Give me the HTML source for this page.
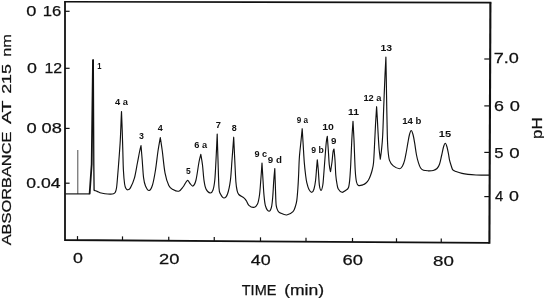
<!DOCTYPE html>
<html><head><meta charset="utf-8"><title>Chromatogram</title>
<style>html,body{margin:0;padding:0;background:#fff}svg{display:block}</style></head>
<body>
<svg width="544" height="298" viewBox="0 0 544 298">
<rect width="544" height="298" fill="#fff"/>
<g fill="none" stroke="#111" stroke-width="1.8" stroke-linejoin="miter">
<path d="M65,1.7 L65,240.0 L489.4,242.9"/>
<path d="M490.4,2.6 L489.4,243.8" stroke-width="2.1"/>
<path d="M64.1,1.7 L491.4,2.6" stroke-width="1.6"/>
</g>
<g stroke="#111" stroke-width="1.2" fill="none">
<line x1="65" y1="11.3" x2="69.6" y2="11.3"/>
<line x1="65" y1="68.3" x2="69.6" y2="68.3"/>
<line x1="65" y1="128.4" x2="69.6" y2="128.4"/>
<line x1="65" y1="183.2" x2="69.6" y2="183.2"/>
<line x1="484.3" y1="59.0" x2="489.8" y2="59.0"/>
<line x1="484.3" y1="105.9" x2="489.8" y2="105.9"/>
<line x1="484.3" y1="152.4" x2="489.8" y2="152.4"/>
<line x1="484.3" y1="196.6" x2="489.8" y2="196.6"/>
<line x1="77.50" y1="236.09" x2="77.50" y2="240.09"/>
<line x1="122.50" y1="236.39" x2="122.50" y2="240.39"/>
<line x1="168.75" y1="236.71" x2="168.75" y2="240.71"/>
<line x1="214.25" y1="237.02" x2="214.25" y2="241.02"/>
<line x1="260.50" y1="237.33" x2="260.50" y2="241.33"/>
<line x1="306.00" y1="237.64" x2="306.00" y2="241.64"/>
<line x1="352.50" y1="237.96" x2="352.50" y2="241.96"/>
<line x1="396.50" y1="238.26" x2="396.50" y2="242.26"/>
<line x1="441.25" y1="238.57" x2="441.25" y2="242.57"/>
</g>
<path d="M94.10,190.30C94.23,190.35 94.40,190.42 94.90,190.60C95.40,190.78 96.25,191.05 97.10,191.40C97.95,191.75 98.68,192.32 100.00,192.70C101.32,193.08 103.30,193.47 105.00,193.70C106.70,193.93 108.78,194.08 110.20,194.10C111.62,194.12 112.65,194.10 113.50,193.80C114.35,193.50 114.80,193.27 115.30,192.30C115.80,191.33 116.17,190.02 116.50,188.00C116.83,185.98 116.90,184.85 117.30,180.20C117.70,175.55 118.40,166.80 118.90,160.10C119.40,153.40 119.92,147.02 120.30,140.00C120.68,132.98 121.00,122.75 121.20,118.00C121.40,113.25 121.45,112.58 121.50,111.50C121.62,114.58 121.98,123.58 122.20,130.00C122.42,136.42 122.60,143.33 122.80,150.00C123.00,156.67 123.10,164.33 123.40,170.00C123.70,175.67 124.17,180.92 124.60,184.00C125.03,187.08 125.47,187.53 126.00,188.50C126.53,189.47 127.07,189.90 127.80,189.80C128.53,189.70 129.30,189.83 130.40,187.90C131.50,185.97 133.23,182.35 134.40,178.20C135.57,174.05 136.53,167.45 137.40,163.00C138.27,158.55 139.00,154.40 139.60,151.50C140.20,148.60 140.77,146.58 141.00,145.60C141.20,148.00 141.77,154.62 142.20,160.00C142.63,165.38 143.05,173.57 143.60,177.90C144.15,182.23 144.58,183.90 145.50,186.00C146.42,188.10 147.93,190.67 149.10,190.50C150.27,190.33 151.43,188.42 152.50,185.00C153.57,181.58 154.58,175.67 155.50,170.00C156.42,164.33 157.20,156.42 158.00,151.00C158.80,145.58 159.92,139.75 160.30,137.50C160.63,139.75 161.52,145.12 162.30,151.00C163.08,156.88 163.92,167.07 165.00,172.80C166.08,178.53 167.47,182.62 168.80,185.40C170.13,188.18 171.33,188.53 173.00,189.50C174.67,190.47 177.13,191.62 178.80,191.20C180.47,190.78 181.58,188.80 183.00,187.00C184.42,185.20 186.13,180.98 187.30,180.40C188.47,179.82 189.05,182.57 190.00,183.50C190.95,184.43 192.00,186.58 193.00,186.00C194.00,185.42 195.00,184.00 196.00,180.00C197.00,176.00 198.20,166.27 199.00,162.00C199.80,157.73 200.50,155.67 200.80,154.40C201.08,156.17 201.97,160.67 202.50,165.00C203.03,169.33 203.42,176.40 204.00,180.40C204.58,184.40 204.97,186.90 206.00,189.00C207.03,191.10 209.03,192.83 210.20,193.00C211.37,193.17 212.23,192.17 213.00,190.00C213.77,187.83 214.30,185.00 214.80,180.00C215.30,175.00 215.60,167.67 216.00,160.00C216.40,152.33 217.00,138.33 217.20,134.00C217.33,138.33 217.70,151.00 218.00,160.00C218.30,169.00 218.58,182.33 219.00,188.00C219.42,193.67 219.67,192.33 220.50,194.00C221.33,195.67 222.83,198.00 224.00,198.00C225.17,198.00 226.43,196.93 227.50,194.00C228.57,191.07 229.65,186.07 230.40,180.40C231.15,174.73 231.45,167.20 232.00,160.00C232.55,152.80 233.42,141.00 233.70,137.20C233.92,141.83 234.63,157.53 235.00,165.00C235.37,172.47 235.57,177.83 235.90,182.00C236.23,186.17 236.52,187.92 237.00,190.00C237.48,192.08 237.65,193.18 238.80,194.50C239.95,195.82 242.62,196.82 243.90,197.90C245.18,198.98 245.67,199.75 246.50,201.00C247.33,202.25 247.67,204.33 248.90,205.40C250.13,206.47 252.47,207.63 253.90,207.40C255.33,207.17 256.57,206.07 257.50,204.00C258.43,201.93 258.95,199.00 259.50,195.00C260.05,191.00 260.38,185.32 260.80,180.00C261.22,174.68 261.80,165.92 262.00,163.10C262.17,165.92 262.67,174.63 263.00,180.00C263.33,185.37 263.58,190.97 264.00,195.30C264.42,199.63 264.67,203.35 265.50,206.00C266.33,208.65 268.00,211.03 269.00,211.20C270.00,211.37 270.87,209.53 271.50,207.00C272.13,204.47 272.42,200.50 272.80,196.00C273.18,191.50 273.47,184.58 273.80,180.00C274.13,175.42 274.63,170.42 274.80,168.50C274.92,172.08 275.27,183.85 275.50,190.00C275.73,196.15 275.78,201.90 276.20,205.40C276.62,208.90 277.30,209.73 278.00,211.00C278.70,212.27 278.95,212.33 280.40,213.00C281.85,213.67 284.60,215.22 286.70,215.00C288.80,214.78 291.53,213.20 293.00,211.70C294.47,210.20 294.87,207.88 295.50,206.00C296.13,204.12 296.40,203.40 296.80,200.40C297.20,197.40 297.60,192.20 297.90,188.00C298.20,183.80 298.35,180.37 298.60,175.20C298.85,170.03 298.98,162.87 299.40,157.00C299.82,151.13 300.63,144.72 301.10,140.00C301.57,135.28 302.02,130.58 302.20,128.70C302.37,131.42 302.85,139.35 303.20,145.00C303.55,150.65 303.90,157.60 304.30,162.60C304.70,167.60 305.18,171.65 305.60,175.00C306.02,178.35 306.23,180.28 306.80,182.70C307.37,185.12 308.15,187.90 309.00,189.50C309.85,191.10 311.07,192.38 311.90,192.30C312.73,192.22 313.38,191.02 314.00,189.00C314.62,186.98 315.17,183.70 315.60,180.20C316.03,176.70 316.32,171.40 316.60,168.00C316.88,164.60 317.18,161.17 317.30,159.80C317.47,161.50 317.95,165.75 318.30,170.00C318.65,174.25 318.92,181.92 319.40,185.30C319.88,188.68 320.63,190.35 321.20,190.30C321.77,190.25 322.38,187.52 322.80,185.00C323.22,182.48 323.33,179.70 323.70,175.20C324.07,170.70 324.57,163.53 325.00,158.00C325.43,152.47 325.92,145.60 326.30,142.00C326.68,138.40 327.13,137.33 327.30,136.40C327.47,138.67 327.97,145.23 328.30,150.00C328.63,154.77 328.93,161.38 329.30,165.00C329.67,168.62 330.30,170.58 330.50,171.70C330.75,170.08 331.58,165.28 332.00,162.00C332.42,158.72 332.67,154.17 333.00,152.00C333.33,149.83 333.83,149.50 334.00,149.00C334.17,150.83 334.70,155.63 335.00,160.00C335.30,164.37 335.47,171.20 335.80,175.20C336.13,179.20 336.58,181.70 337.00,184.00C337.42,186.30 337.47,187.62 338.30,189.00C339.13,190.38 340.80,192.05 342.00,192.30C343.20,192.55 344.43,191.25 345.50,190.50C346.57,189.75 347.70,189.55 348.40,187.80C349.10,186.05 349.32,183.80 349.70,180.00C350.08,176.20 350.35,171.67 350.70,165.00C351.05,158.33 351.42,147.28 351.80,140.00C352.18,132.72 352.80,124.42 353.00,121.30C353.17,124.42 353.63,131.88 354.00,140.00C354.37,148.12 354.78,163.00 355.20,170.00C355.62,177.00 355.95,179.42 356.50,182.00C357.05,184.58 357.42,185.03 358.50,185.50C359.58,185.97 361.75,185.22 363.00,184.80C364.25,184.38 365.08,183.80 366.00,183.00C366.92,182.20 367.75,181.25 368.50,180.00C369.25,178.75 369.88,177.17 370.50,175.50C371.12,173.83 371.70,172.08 372.20,170.00C372.70,167.92 373.13,166.70 373.50,163.00C373.87,159.30 374.07,154.13 374.40,147.80C374.73,141.47 375.13,131.85 375.50,125.00C375.87,118.15 376.42,109.75 376.60,106.70C376.73,108.92 377.13,115.25 377.40,120.00C377.67,124.75 377.90,130.20 378.20,135.20C378.50,140.20 378.85,146.02 379.20,150.00C379.55,153.98 380.12,157.58 380.30,159.10C380.50,157.58 381.10,153.98 381.50,150.00C381.90,146.02 382.32,142.70 382.70,135.20C383.08,127.70 383.42,115.03 383.80,105.00C384.18,94.97 384.65,82.98 385.00,75.00C385.35,67.02 385.75,60.08 385.90,57.10C385.97,60.92 386.15,71.18 386.30,80.00C386.45,88.82 386.63,100.83 386.80,110.00C386.97,119.17 387.10,128.33 387.30,135.00C387.50,141.67 387.63,145.77 388.00,150.00C388.37,154.23 388.62,157.75 389.50,160.40C390.38,163.05 391.62,164.52 393.30,165.90C394.98,167.28 398.07,168.68 399.60,168.70C401.13,168.72 401.67,167.38 402.50,166.00C403.33,164.62 403.97,162.73 404.60,160.40C405.23,158.07 405.75,154.95 406.30,152.00C406.85,149.05 407.37,145.62 407.90,142.70C408.43,139.78 408.95,136.53 409.50,134.50C410.05,132.47 410.62,130.50 411.20,130.50C411.78,130.50 412.43,132.47 413.00,134.50C413.57,136.53 414.02,139.28 414.60,142.70C415.18,146.12 415.85,151.63 416.50,155.00C417.15,158.37 417.82,160.73 418.50,162.90C419.18,165.07 419.77,166.77 420.60,168.00C421.43,169.23 422.27,169.83 423.50,170.30C424.73,170.77 426.38,170.77 428.00,170.80C429.62,170.83 431.70,170.88 433.20,170.50C434.70,170.12 435.95,169.55 437.00,168.50C438.05,167.45 438.75,166.28 439.50,164.20C440.25,162.12 440.83,158.87 441.50,156.00C442.17,153.13 442.87,149.13 443.50,147.00C444.13,144.87 444.72,143.20 445.30,143.20C445.88,143.20 446.47,145.20 447.00,147.00C447.53,148.80 448.07,151.77 448.50,154.00C448.93,156.23 449.13,158.40 449.60,160.40C450.07,162.40 450.77,164.43 451.30,166.00C451.83,167.57 452.02,168.88 452.80,169.80C453.58,170.72 454.47,170.90 456.00,171.50C457.53,172.10 460.00,172.92 462.00,173.40C464.00,173.88 465.67,174.13 468.00,174.40C470.33,174.67 473.50,174.88 476.00,175.00C478.50,175.12 480.78,175.08 483.00,175.10C485.22,175.12 488.25,175.10 489.30,175.10" fill="none" stroke="#111" stroke-width="1.15" stroke-linejoin="round" stroke-linecap="round"/>
<path d="M65.5,193.9 L89.8,193.9" fill="none" stroke="#111" stroke-width="1.15"/>
<path d="M77.8,194 L77.8,150" fill="none" stroke="#222" stroke-width="0.8"/>
<path d="M89.6,194.2 L91.7,164 L93.0,59.4" fill="none" stroke="#111" stroke-width="1.8" stroke-linejoin="round"/>
<path d="M93.3,59.4 L93.8,164 L94.1,190.3" fill="none" stroke="#111" stroke-width="1.3" stroke-linejoin="round"/>
<g font-family="'Liberation Sans', sans-serif" fill="#111">
<text y="16.00" font-size="14.8" stroke="#111" stroke-width="0.25"><tspan x="26.17" textLength="10.13" lengthAdjust="spacingAndGlyphs">0</tspan> <tspan x="42.85" textLength="18.49" lengthAdjust="spacingAndGlyphs">16</tspan></text>
<text y="72.75" font-size="14.8" stroke="#111" stroke-width="0.25"><tspan x="27.04" textLength="9.90" lengthAdjust="spacingAndGlyphs">0</tspan> <tspan x="44.41" textLength="17.67" lengthAdjust="spacingAndGlyphs">12</tspan></text>
<text y="132.75" font-size="14.8" stroke="#111" stroke-width="0.25"><tspan x="26.52" textLength="10.19" lengthAdjust="spacingAndGlyphs">0</tspan> <tspan x="41.52" textLength="20.30" lengthAdjust="spacingAndGlyphs">08</tspan></text>
<text transform="translate(26.19,188.10) scale(1.191,1)" font-size="14.8" font-weight="normal" stroke="#111" stroke-width="0.25">0.04</text>
<text transform="translate(493.80,62.75) scale(1.221,1)" font-size="14.8" font-weight="normal" stroke="#111" stroke-width="0.25">7.0</text>
<text y="111.00" font-size="14.8" stroke="#111" stroke-width="0.25"><tspan x="494.11" textLength="9.92" lengthAdjust="spacingAndGlyphs">6</tspan> <tspan x="509.67" textLength="10.13" lengthAdjust="spacingAndGlyphs">0</tspan></text>
<text y="157.50" font-size="14.8" stroke="#111" stroke-width="0.25"><tspan x="494.33" textLength="9.25" lengthAdjust="spacingAndGlyphs">5</tspan> <tspan x="509.25" textLength="10.37" lengthAdjust="spacingAndGlyphs">0</tspan></text>
<text y="200.75" font-size="14.8" stroke="#111" stroke-width="0.25"><tspan x="495.07" textLength="8.26" lengthAdjust="spacingAndGlyphs">4</tspan> <tspan x="509.04" textLength="9.90" lengthAdjust="spacingAndGlyphs">0</tspan></text>
<text transform="translate(73.04,263.10) scale(1.203,1)" font-size="14.8" font-weight="normal" stroke="#111" stroke-width="0.25">0</text>
<text transform="translate(159.08,264.00) scale(1.239,1)" font-size="14.8" font-weight="normal" stroke="#111" stroke-width="0.25">20</text>
<text transform="translate(250.85,265.00) scale(1.207,1)" font-size="14.8" font-weight="normal" stroke="#111" stroke-width="0.25">40</text>
<text transform="translate(342.58,265.25) scale(1.239,1)" font-size="14.8" font-weight="normal" stroke="#111" stroke-width="0.25">60</text>
<text transform="translate(432.95,265.60) scale(1.269,1)" font-size="14.8" font-weight="normal" stroke="#111" stroke-width="0.25">80</text>
<text y="295.30" font-size="14.2" stroke="#111" stroke-width="0.25"><tspan x="241.77" textLength="34.57" lengthAdjust="spacingAndGlyphs">TIME</tspan> <tspan x="284.21" textLength="39.89" lengthAdjust="spacingAndGlyphs">(min)</tspan></text>
<text transform="translate(11.40,0) rotate(-90)" font-size="13.3" stroke="#111" stroke-width="0.25"><tspan x="-245.34" textLength="113.72" lengthAdjust="spacingAndGlyphs">ABSORBANCE</tspan> <tspan x="-124.05" textLength="23.20" lengthAdjust="spacingAndGlyphs">AT</tspan> <tspan x="-93.89" textLength="29.83" lengthAdjust="spacingAndGlyphs">215</tspan> <tspan x="-56.81" textLength="22.80" lengthAdjust="spacingAndGlyphs">nm</tspan></text>
<text transform="translate(542.00,138.89) rotate(-90) scale(1.201,1)" font-size="14" font-weight="normal" stroke="#111" stroke-width="0.25">pH</text>
<text transform="translate(97.29,68.90) scale(0.850,1)" font-size="9" font-weight="bold" stroke="#111" stroke-width="0.00">1</text>
<text transform="translate(115.11,105.10) scale(1.033,1)" font-size="9" font-weight="bold" stroke="#111" stroke-width="0.00">4 a</text>
<text transform="translate(139.10,138.70) scale(0.983,1)" font-size="9" font-weight="bold" stroke="#111" stroke-width="0.00">3</text>
<text transform="translate(157.87,131.20) scale(0.997,1)" font-size="9" font-weight="bold" stroke="#111" stroke-width="0.00">4</text>
<text transform="translate(185.92,174.30) scale(0.943,1)" font-size="9" font-weight="bold" stroke="#111" stroke-width="0.00">5</text>
<text transform="translate(194.25,148.30) scale(1.029,1)" font-size="9" font-weight="bold" stroke="#111" stroke-width="0.00">6 a</text>
<text transform="translate(215.80,127.50) scale(1.040,1)" font-size="9" font-weight="bold" stroke="#111" stroke-width="0.00">7</text>
<text transform="translate(231.71,131.10) scale(0.993,1)" font-size="9" font-weight="bold" stroke="#111" stroke-width="0.00">8</text>
<text transform="translate(254.48,157.10) scale(1.013,1)" font-size="9" font-weight="bold" stroke="#111" stroke-width="0.00">9 c</text>
<text transform="translate(267.86,162.90) scale(1.082,1)" font-size="9" font-weight="bold" stroke="#111" stroke-width="0.00">9 d</text>
<text transform="translate(296.71,123.40) scale(0.905,1)" font-size="9" font-weight="bold" stroke="#111" stroke-width="0.00">9 a</text>
<text transform="translate(311.30,153.00) scale(0.965,1)" font-size="9" font-weight="bold" stroke="#111" stroke-width="0.00">9 b</text>
<text transform="translate(322.24,130.10) scale(1.169,1)" font-size="9" font-weight="bold" stroke="#111" stroke-width="0.00">10</text>
<text transform="translate(330.91,143.50) scale(1.088,1)" font-size="9" font-weight="bold" stroke="#111" stroke-width="0.00">9</text>
<text transform="translate(347.95,115.10) scale(1.151,1)" font-size="9" font-weight="bold" stroke="#111" stroke-width="0.00">11</text>
<text transform="translate(363.42,100.50) scale(1.035,1)" font-size="9" font-weight="bold" stroke="#111" stroke-width="0.00">12 a</text>
<text transform="translate(380.45,50.80) scale(1.163,1)" font-size="9" font-weight="bold" stroke="#111" stroke-width="0.00">13</text>
<text transform="translate(402.20,123.90) scale(1.066,1)" font-size="9" font-weight="bold" stroke="#111" stroke-width="0.00">14 b</text>
<text transform="translate(438.81,137.20) scale(1.231,1)" font-size="9" font-weight="bold" stroke="#111" stroke-width="0.00">15</text>
</g>
</svg>
</body></html>
